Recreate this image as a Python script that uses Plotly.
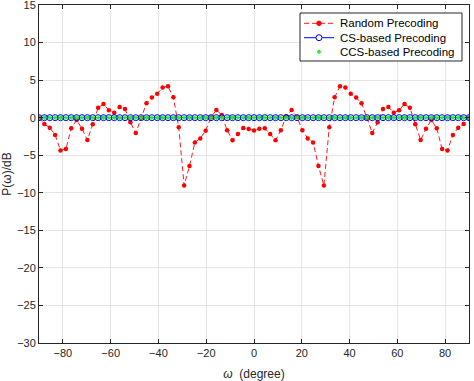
import plotly.graph_objects as go

angles = [-90.0, -87.75, -85.5, -83.25, -81.0, -78.75, -76.5, -74.25, -72.0, -69.75,
          -67.5, -65.25, -63.0, -60.75, -58.5, -56.25, -54.0, -51.75, -49.5, -47.25,
          -45.0, -42.75, -40.5, -38.25, -36.0, -33.75, -31.5, -29.25, -27.0, -24.75,
          -22.5, -20.25, -18.0, -15.75, -13.5, -11.25, -9.0, -6.75, -4.5, -2.25,
          0.0, 2.25, 4.5, 6.75, 9.0, 11.25, 13.5, 15.75, 18.0, 20.25,
          22.5, 24.75, 27.0, 29.25, 31.5, 33.75, 36.0, 38.25, 40.5, 42.75,
          45.0, 47.25, 49.5, 51.75, 54.0, 56.25, 58.5, 60.75, 63.0, 65.25,
          67.5, 69.75, 72.0, 74.25, 76.5, 78.75, 81.0, 83.25, 85.5, 87.75, 90.0]

random_precoding = [0.0, -0.84, -1.33, -2.3, -4.36, -4.18, -1.42, -0.31, -1.47, -2.98,
                    -0.89, 1.33, 1.82, 0.98, 0.67, 1.42, 1.16, -0.62, -2.04, 0.0,
                    1.91, 2.67, 3.2, 4.0, 4.18, 2.71, -1.29, -9.02, -6.44, -3.29,
                    -2.76, -1.73, 0.05, 1.02, 0.36, -1.69, -3.02, -2.18, -1.38, -1.51,
                    -1.71, -1.47, -1.42, -2.18, -3.02, -1.69, 0.2, 1.02, 0.1, -1.69,
                    -2.76, -3.29, -6.44, -9.02, -1.29, 2.71, 4.18, 4.0, 3.2, 2.67,
                    1.91, 0.0, -2.04, -0.62, 1.16, 1.42, 0.67, 0.98, 1.82, 1.33,
                    -0.89, -2.98, -1.47, -0.31, -1.42, -4.18, -4.36, -2.3, -1.33, -0.84, 0.0]

cs_precoding = [0.0, 0.0, 0.0, 0.0, 0.0, 0.0, 0.0, 0.0, 0.0, 0.0,
                0.0, 0.0, 0.0, 0.0, 0.0, 0.0, 0.0, 0.0, 0.0, 0.0,
                0.0, 0.0, 0.0, 0.0, 0.0, 0.0, 0.0, 0.0, 0.0, 0.0,
                0.0, 0.0, 0.0, 0.0, 0.0, 0.0, 0.0, 0.0, 0.0, 0.0,
                0.0, 0.0, 0.0, 0.0, 0.0, 0.0, 0.0, 0.0, 0.0, 0.0,
                0.0, 0.0, 0.0, 0.0, 0.0, 0.0, 0.0, 0.0, 0.0, 0.0,
                0.0, 0.0, 0.0, 0.0, 0.0, 0.0, 0.0, 0.0, 0.0, 0.0,
                0.0, 0.0, 0.0, 0.0, 0.0, 0.0, 0.0, 0.0, 0.0, 0.0, 0.0]

ccs_precoding = [0.0, 0.0, 0.0, 0.0, 0.0, 0.0, 0.0, 0.0, 0.0, 0.0,
                 0.0, 0.0, 0.0, 0.0, 0.0, 0.0, 0.0, 0.0, 0.0, 0.0,
                 0.0, 0.0, 0.0, 0.0, 0.0, 0.0, 0.0, 0.0, 0.0, 0.0,
                 0.0, 0.0, 0.0, 0.0, 0.0, 0.0, 0.0, 0.0, 0.0, 0.0,
                 0.0, 0.0, 0.0, 0.0, 0.0, 0.0, 0.0, 0.0, 0.0, 0.0,
                 0.0, 0.0, 0.0, 0.0, 0.0, 0.0, 0.0, 0.0, 0.0, 0.0,
                 0.0, 0.0, 0.0, 0.0, 0.0, 0.0, 0.0, 0.0, 0.0, 0.0,
                 0.0, 0.0, 0.0, 0.0, 0.0, 0.0, 0.0, 0.0, 0.0, 0.0, 0.0]

series_names = ["Random Precoding", "CS-based Precoding", "CCS-based Precoding"]
x_ticks = [-80, -60, -40, -20, 0, 20, 40, 60, 80]
y_ticks = [-30, -25, -20, -15, -10, -5, 0, 5, 10, 15]

FONT = "Liberation Sans, Arial, Helvetica, sans-serif"
AX = "#262626"
GRID = "#e3e3e3"
RED = "#ff0000"
BLUE = "#0000ff"
GREEN = "#22ee22"
RED_DASH = "5px,3px"

W, H = 474, 381
ML, MR, MT, MB = 39, 5, 5, 38
PW, PH = W - ML - MR, H - MT - MB


def px(x):
    return (x - ML) / PW


def py(y):
    return 1 - (y - MT) / PH


fig = go.Figure()
fig.add_trace(go.Scatter(
    x=angles, y=random_precoding, mode="lines+markers", name=series_names[0],
    line=dict(color=RED, width=0.9, dash=RED_DASH),
    marker=dict(symbol="circle", size=4.5, color=RED),
    showlegend=False,
))
fig.add_trace(go.Scatter(
    x=angles, y=cs_precoding, mode="lines+markers", name=series_names[1],
    line=dict(color=BLUE, width=1),
    marker=dict(symbol="circle-open", size=6, color=BLUE, line=dict(width=1)),
    showlegend=False,
))
fig.add_trace(go.Scatter(
    x=angles, y=ccs_precoding, mode="markers", name=series_names[2],
    marker=dict(symbol="asterisk-open", size=4, color=GREEN, line=dict(width=1, color=GREEN)),
    showlegend=False,
))

axis_common = dict(
    showgrid=True, gridcolor=GRID, gridwidth=1,
    showline=True, linecolor=AX, linewidth=1, mirror="ticks",
    ticks="inside", ticklen=4, tickcolor=AX,
    tickfont=dict(family=FONT, size=11, color=AX),
    zeroline=False, automargin=False, ticklabeloverflow="allow",
)

# manual MATLAB-style compact legend box
shapes = [dict(type="rect", xref="paper", yref="paper",
               x0=px(300), x1=px(462), y0=py(61), y1=py(13),
               line=dict(color=AX, width=1), fillcolor="white", layer="above")]
annotations = []
row_y = [23.3, 37.7, 51.7]
line_styles = [dict(color=RED, width=0.9, dash=RED_DASH), dict(color=BLUE, width=1), None]
for i, name in enumerate(series_names):
    yy = py(row_y[i])
    if line_styles[i] is not None:
        shapes.append(dict(type="line", xref="paper", yref="paper",
                           x0=px(304), x1=px(334), y0=yy, y1=yy,
                           line=line_styles[i], layer="above"))
    annotations.append(dict(x=px(338), y=yy, xref="paper", yref="paper",
                            text=name, showarrow=False, xanchor="left", yanchor="middle",
                            font=dict(family=FONT, size=11.5, color="#000000")))
marker_specs = [(RED, RED, 4.5), (BLUE, "white", 6), (GREEN, GREEN, 3)]
for i, (lc, fc, d) in enumerate(marker_specs):
    shapes.append(dict(type="circle", xref="paper", yref="paper",
                       xsizemode="pixel", ysizemode="pixel",
                       xanchor=px(319), yanchor=py(row_y[i]),
                       x0=-d / 2, x1=d / 2, y0=-d / 2, y1=d / 2,
                       line=dict(color=lc, width=1), fillcolor=fc, layer="above"))

fig.update_layout(
    width=W, height=H,
    margin=dict(l=ML, r=MR, t=MT, b=MB),
    paper_bgcolor="white", plot_bgcolor="white",
    font=dict(family=FONT, size=12, color=AX),
    xaxis=dict(range=[-90, 90], tickvals=x_ticks,
               title=dict(text="<i>ω</i>  (degree)", font=dict(family=FONT, size=12, color=AX)),
               **axis_common),
    yaxis=dict(range=[-30, 15], tickvals=y_ticks,
               title=dict(text="P(ω)/dB", font=dict(family=FONT, size=12, color=AX)),
               **axis_common),
    shapes=shapes,
    annotations=annotations,
    showlegend=False,
)

fig.write_html("out.html",
               config={"displayModeBar": False},
               post_script="document.body.style.margin='0';document.body.style.overflow='hidden';")
